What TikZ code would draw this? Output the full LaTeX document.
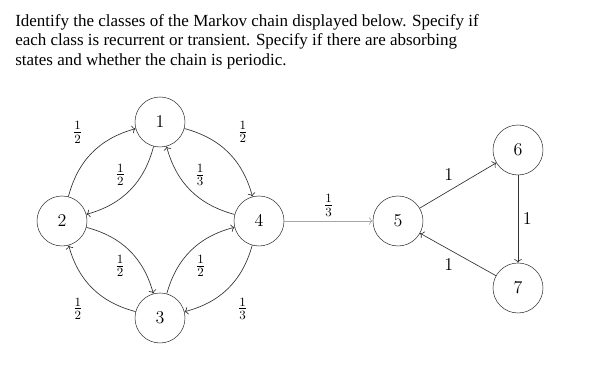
\documentclass[tikz,border=0pt]{standalone}
\usepackage{fix-cm}
\usepackage{amsmath}
\usepackage[no-math]{fontspec}
\setmainfont{Liberation Serif}
\usetikzlibrary{arrows.meta}

\begin{document}
\begin{tikzpicture}[x=0.75pt, y=0.75pt, auto,
    state/.style={draw=black!80, circle, minimum size=37.5pt, inner sep=0pt,
        font=\fontsize{13.5}{16}\selectfont},
    trans/.style={->, draw=black!80, line width=0.5pt},
    outer/.style={inner sep=7pt}]
    \useasboundingbox (0,0) rectangle (590,377);

    % question
    \node (question) [anchor=north west, align=left, inner sep=0pt,
        font=\fontsize{12.75}{14.6}\selectfont] at (15,363)
        {Identify the classes of the Markov chain displayed below. Specify if\\
         each class is recurrent or transient. Specify if there are absorbing\\
         states and whether the chain is periodic.};

    % states
    \node (s1) [state] at (160,255) {$1$};
    \node (s2) [state] at (62,156) {$2$};
    \node (s3) [state] at (160,59) {$3$};
    \node (s4) [state] at (259,156) {$4$};
    \node (s5) [state] at (398,156) {$5$};
    \node (s6) [state] at (518,227) {$6$};
    \node (s7) [state] at (518,89) {$7$};

    % transitions
    \begin{scope}[every node/.style={font=\fontsize{13.5}{16}\selectfont}]
    \draw [trans] (s2) to[bend left=30] node[outer] {$\frac{1}{2}$} (s1);
    \draw [trans] (s1) to[bend left=30] node[swap] {$\frac{1}{2}$} (s2);
    \draw [trans] (s1) to[bend left=30] node[outer] {$\frac{1}{2}$} (s4);
    \draw [trans] (s4) to[bend left=30] node[swap] {$\frac{1}{3}$} (s1);
    \draw [trans] (s2) to[bend left=30] node[swap] {$\frac{1}{2}$} (s3);
    \draw [trans] (s3) to[bend left=30] node[outer] {$\frac{1}{2}$} (s2);
    \draw [trans] (s3) to[bend left=30] node[swap] {$\frac{1}{2}$} (s4);
    \draw [trans] (s4) to[bend left=30] node[outer] {$\frac{1}{3}$} (s3);
    \draw [trans, draw=black!35] (s4) -- node {$\frac{1}{3}$} (s5);
    \draw [trans] (s5) -- node {$1$} (s6);
    \draw [trans] (s6) -- node {$1$} (s7);
    \draw [trans] (s7) -- node {$1$} (s5);
    \end{scope}
\end{tikzpicture}
\end{document}
